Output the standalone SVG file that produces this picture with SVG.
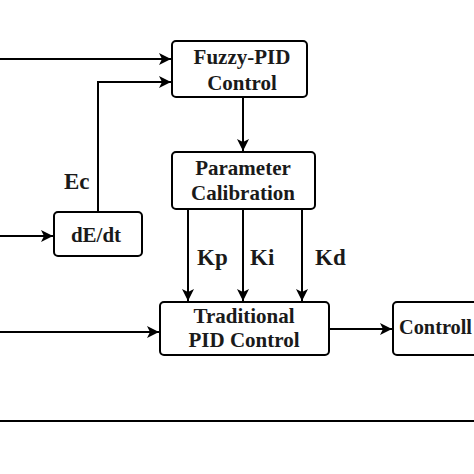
<svg xmlns="http://www.w3.org/2000/svg" width="474" height="474" viewBox="0 0 474 474">
<style>
.box{fill:#fff;stroke:#000;stroke-width:2}
.t{font-family:"Liberation Serif","Times New Roman",serif;font-weight:bold;font-size:21px;fill:#1a1a1a;text-anchor:middle}
.lbl{font-family:"Liberation Serif","Times New Roman",serif;font-weight:bold;font-size:23px;fill:#1a1a1a}
.c{fill:none;stroke:#000;stroke-width:2}
</style>
<defs>
<marker id="ar" markerUnits="userSpaceOnUse" markerWidth="14" markerHeight="14" viewBox="0 0 14 14" refX="13" refY="7" orient="auto">
<path d="M1,1 L13,7 L1,13 L4,7 Z" fill="#000"/>
</marker>
</defs>
<rect width="474" height="474" fill="#fff"/>
<g id="connectors">
<path class="c" d="M0,59 H171" marker-end="url(#ar)"/>
<path class="c" d="M98,212 V82 H171" marker-end="url(#ar)"/>
<path class="c" d="M0,236 H53" marker-end="url(#ar)"/>
<path class="c" d="M243,97 V151" marker-end="url(#ar)"/>
<path class="c" d="M188,209 V301" marker-end="url(#ar)"/>
<path class="c" d="M243,209 V301" marker-end="url(#ar)"/>
<path class="c" d="M302,209 V301" marker-end="url(#ar)"/>
<path class="c" d="M0,332 H159" marker-end="url(#ar)"/>
<path class="c" d="M329,329 H392" marker-end="url(#ar)"/>
<path class="c" d="M0,421 H474" stroke="#333"/>
</g>
<g id="fuzzy">
<rect class="box" x="172" y="41" width="135" height="56" rx="4"/>
<text class="t" x="242" y="64">Fuzzy-PID</text>
<text class="t" x="242" y="90">Control</text>
</g>
<g id="param">
<rect class="box" x="172" y="152" width="143" height="57" rx="4"/>
<text class="t" x="243" y="175">Parameter</text>
<text class="t" x="243" y="200">Calibration</text>
</g>
<g id="dedt">
<rect class="box" x="54" y="212" width="88" height="44" rx="4"/>
<text class="t" x="96" y="242">dE/dt</text>
</g>
<g id="traditional">
<rect class="box" x="160" y="302" width="169" height="53" rx="4"/>
<text class="t" x="244" y="323">Traditional</text>
<text class="t" x="244" y="347">PID Control</text>
</g>
<g id="controller">
<rect class="box" x="393" y="302" width="100" height="53" rx="4"/>
<text class="t" x="399" y="334" style="text-anchor:start" textLength="73" lengthAdjust="spacingAndGlyphs">Controll</text>
</g>
<g id="labels">
<text class="lbl" x="64" y="189">Ec</text>
<text class="lbl" x="197" y="265">Kp</text>
<text class="lbl" x="250" y="265">Ki</text>
<text class="lbl" x="315" y="265">Kd</text>
</g>
</svg>
